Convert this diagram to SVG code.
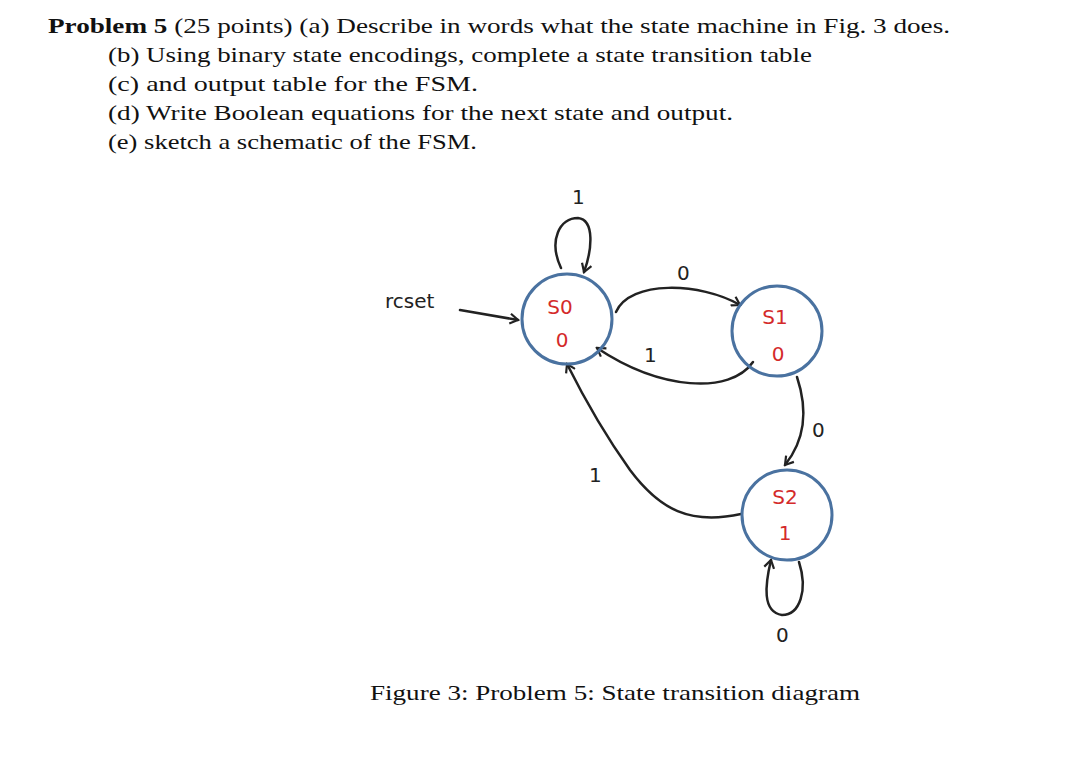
<svg xmlns="http://www.w3.org/2000/svg" width="1068" height="776" viewBox="0 0 1068 776">
<defs>
<style>
.t{font-family:"Liberation Serif",serif;font-size:22px;fill:#111}
.h{font-family:"DejaVu Sans",sans-serif;font-size:20px;fill:#222}
.r{font-family:"DejaVu Sans",sans-serif;font-size:20px;fill:#d42a2a;text-anchor:middle}
.n{fill:none;stroke:#4a72a0;stroke-width:3}
.c{fill:none;stroke:#222;stroke-width:2.5;stroke-linecap:round}
</style>
<marker id="a" viewBox="0 0 12 12" refX="10" refY="6" markerWidth="12" markerHeight="12" markerUnits="userSpaceOnUse" orient="auto"><path d="M2,1 L10,6 L2,11" fill="none" stroke="#222" stroke-width="2.2"/></marker>
</defs>
<rect width="1068" height="776" fill="#fff"/>
<text class="t" x="48" y="33" textLength="902" lengthAdjust="spacingAndGlyphs"><tspan font-weight="bold">Problem 5</tspan> (25 points) (a) Describe in words what the state machine in Fig. 3 does.</text>
<text class="t" x="108" y="62" textLength="704" lengthAdjust="spacingAndGlyphs">(b) Using binary state encodings, complete a state transition table</text>
<text class="t" x="108" y="91" textLength="370" lengthAdjust="spacingAndGlyphs">(c) and output table for the FSM.</text>
<text class="t" x="108" y="120" textLength="625" lengthAdjust="spacingAndGlyphs">(d) Write Boolean equations for the next state and output.</text>
<text class="t" x="108" y="149" textLength="369" lengthAdjust="spacingAndGlyphs">(e) sketch a schematic of the FSM.</text>
<text class="t" x="370" y="700" textLength="490" lengthAdjust="spacingAndGlyphs">Figure 3: Problem 5: State transition diagram</text>
<g id="connectors">
<path class="c" d="M460,310 L518,320" marker-end="url(#a)"/>
<path class="c" d="M561,268 C548,240 560,218 578,218 C595,220 592,250 584,272" marker-end="url(#a)"/>
<path class="c" d="M616,312 C630,280 700,282 740,305" marker-end="url(#a)"/>
<path class="c" d="M753,362 C730,395 660,390 597,348" marker-end="url(#a)"/>
<path class="c" d="M797,377 C808,410 805,440 785,465" marker-end="url(#a)"/>
<path class="c" d="M741,514 C690,525 660,510 630,470 C605,435 585,400 567,364" marker-end="url(#a)"/>
<path class="c" d="M799,562 C808,590 800,615 782,615 C762,612 765,585 771,560" marker-end="url(#a)"/>
<text class="h" x="572" y="204">1</text>
<text class="h" x="677" y="280">0</text>
<text class="h" x="644" y="362">1</text>
<text class="h" x="812" y="437">0</text>
<text class="h" x="589" y="482">1</text>
<text class="h" x="776" y="642">0</text>
</g>
<text class="h" x="385" y="308">rcset</text>
<g id="S0"><circle class="n" cx="567" cy="319" r="45"/><text class="r" x="560" y="314">S0</text><text class="r" x="562" y="347">0</text></g>
<g id="S1"><circle class="n" cx="777" cy="331" r="45"/><text class="r" x="775" y="324">S1</text><text class="r" x="778" y="361">0</text></g>
<g id="S2"><circle class="n" cx="787" cy="515" r="45"/><text class="r" x="785" y="504">S2</text><text class="r" x="785" y="540">1</text></g>
</svg>
